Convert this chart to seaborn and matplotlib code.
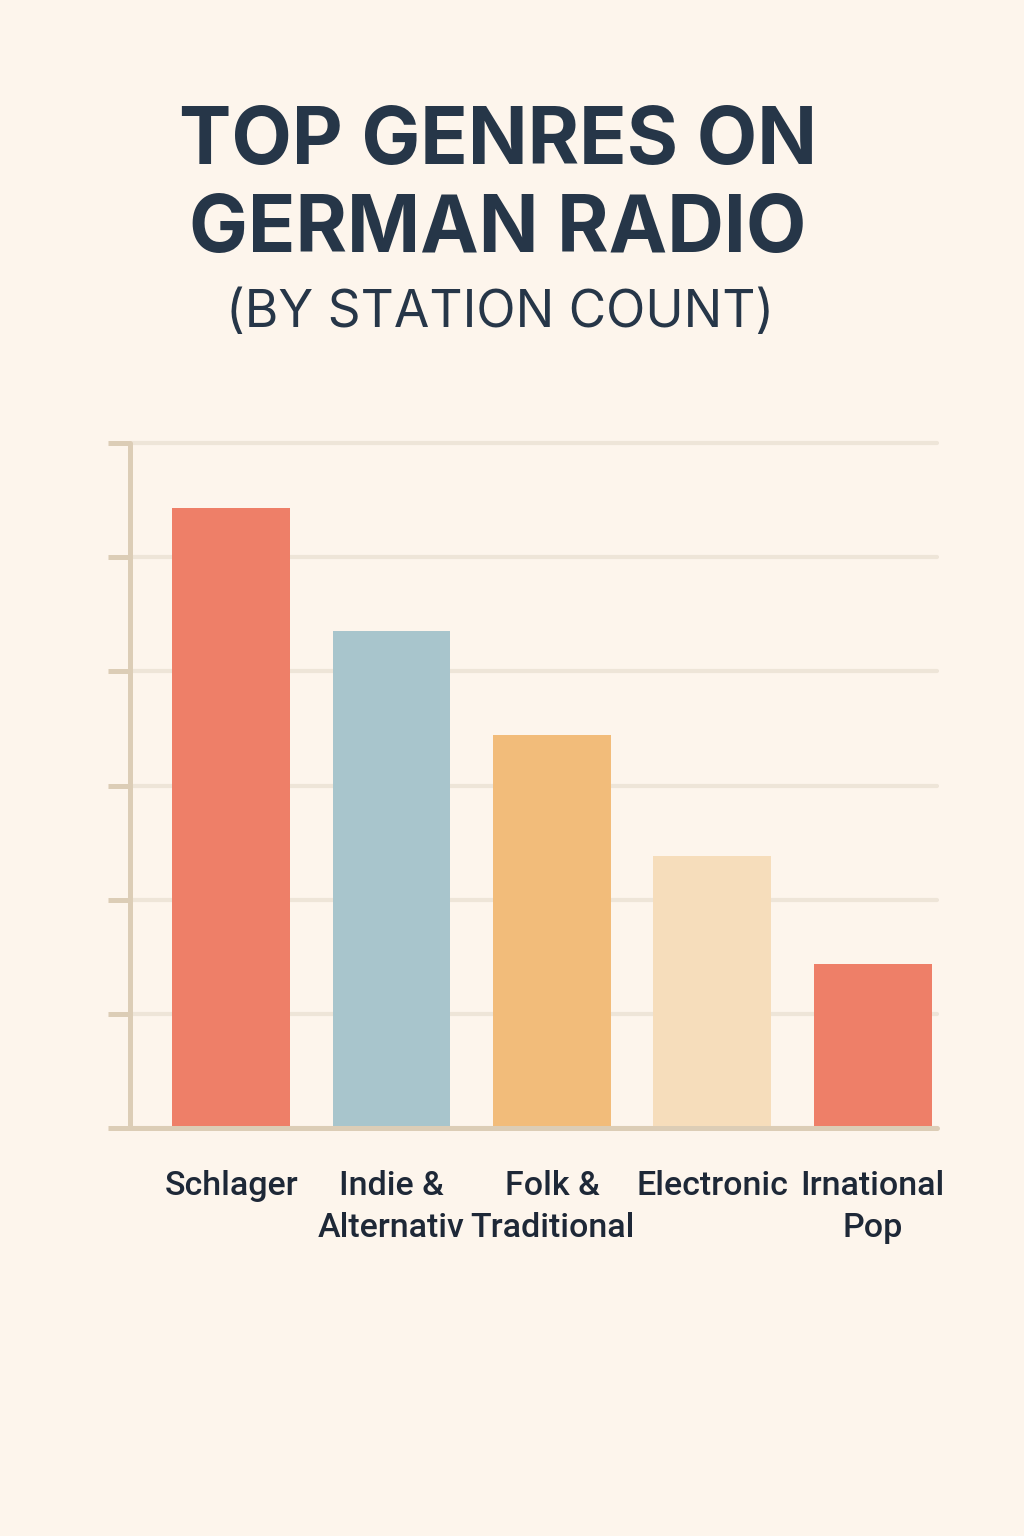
import matplotlib
matplotlib.use("Agg")
import matplotlib.pyplot as plt
import seaborn as sns
import pandas as pd

# Daten
genres = ["Schlager", "Indie &\nAlternativ", "Folk &\nTraditional", "Electronic", "Irnational\nPop"]
stations = [54.3, 43.5, 34.4, 23.8, 14.4]
colors = ["#EE7F68", "#A8C5CC", "#F2BC7A", "#F6DDBB", "#EE7F68"]
yticks = [0, 10, 20, 30, 40, 50, 60]

bg = "#FDF5EC"
navy = "#263648"

sns.set_theme(style="white")
plt.rcParams["font.family"] = ["Roboto", "DejaVu Sans"]

df = pd.DataFrame({"genre": genres, "stations": stations})

fig = plt.figure(figsize=(10.24, 15.36), dpi=100, facecolor=bg)
ax = fig.add_axes([130 / 1024, 1 - 1128 / 1536, (937 - 130) / 1024, (1128 - 443) / 1536])
ax.set_facecolor(bg)

sns.barplot(data=df, x="genre", y="stations", hue="genre", palette=colors,
            legend=False, width=0.735, saturation=1, ax=ax, linewidth=0)

ax.set_xlim(-0.63, 4.40)
ax.set_ylim(0, 60)
ax.set_yticks(yticks)
ax.set_yticklabels([])
ax.set_xlabel("")
ax.set_ylabel("")
ax.set_axisbelow(True)

ax.yaxis.grid(True, color="#EEE5D8", linewidth=3, solid_capstyle="round")
for ln in ax.get_ygridlines():
    ln.set_clip_on(False)

for side in ["top", "right"]:
    ax.spines[side].set_visible(False)
for side in ["left", "bottom"]:
    ax.spines[side].set_color("#DCCDB6")
    ax.spines[side].set_linewidth(3.6)
    ax.spines[side].set_capstyle("round")

ax.tick_params(axis="y", length=16, width=3.6, color="#DCCDB6", left=True)
ax.tick_params(axis="x", length=0, pad=30)
for lbl in ax.get_xticklabels():
    lbl.set_fontsize(24.5)
    lbl.set_fontweight("medium")
    lbl.set_color("#1E2837")
    lbl.set_linespacing(1.4)

# Titel
fig.text(0.486, 1 - 143 / 1536, "TOP GENRES ON", ha="center", va="center",
         fontsize=56.5, fontweight="bold", color=navy, family=["Inter", "DejaVu Sans"])
fig.text(0.486, 1 - 231 / 1536, "GERMAN RADIO", ha="center", va="center",
         fontsize=56.5, fontweight="bold", color=navy, family=["Inter", "DejaVu Sans"])
fig.text(0.488, 1 - 313 / 1536, "(BY STATION COUNT)", ha="center", va="center",
         fontsize=37, color=navy, family=["Inter", "DejaVu Sans"])

fig.savefig("out.png", dpi=100, facecolor=bg)
